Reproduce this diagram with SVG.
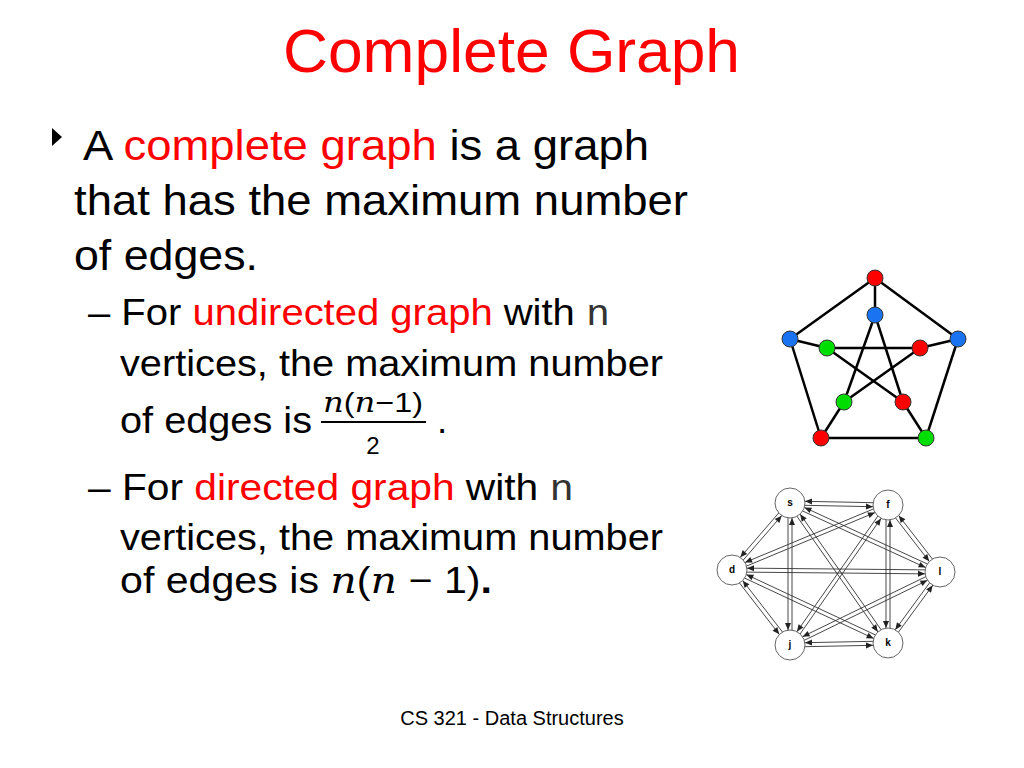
<svg xmlns="http://www.w3.org/2000/svg" width="1024" height="768" viewBox="0 0 1024 768">
<style>
.t{font-family:"Liberation Sans",Arial,sans-serif;fill:#000}
.r{fill:#f00}
.m{font-family:"DejaVu Serif","Liberation Serif",serif;font-style:italic}
.mono{font-family:"Liberation Mono","Courier New",monospace;fill:#333}
.pe line{stroke:#000;stroke-width:2.5}
.dl line{stroke:#333;stroke-width:0.9;marker-end:url(#ah)}
.dn circle{fill:#fff;stroke:#666;stroke-width:1}
.dn text{font-family:"Liberation Sans",Arial,sans-serif;font-size:10px;font-weight:bold;text-anchor:middle}
</style>
<defs>
<marker id="ah" markerUnits="userSpaceOnUse" markerWidth="30" markerHeight="10" refX="15" refY="0" viewBox="-8 -4 30 8" orient="auto"><path d="M-7,-3 L0,0 L-7,3 Z" fill="#222"/></marker>
</defs>
<rect width="1024" height="768" fill="#fff"/>
<text class="t r" x="283" y="72" font-size="62" textLength="457" lengthAdjust="spacingAndGlyphs">Complete Graph</text>
<path d="M52,128 L62,137 L52,146 Z" fill="#000"/>
<g class="t" font-size="42">
<text x="83" y="160" textLength="566" lengthAdjust="spacingAndGlyphs">A <tspan class="r">complete graph</tspan> is a graph</text>
<text x="74" y="215" textLength="614" lengthAdjust="spacingAndGlyphs">that has the maximum number</text>
<text x="74" y="270" textLength="184" lengthAdjust="spacingAndGlyphs">of edges.</text>
</g>
<g class="t" font-size="37">
<text x="88" y="325" textLength="522" lengthAdjust="spacingAndGlyphs">– For <tspan class="r">undirected graph</tspan> with <tspan class="mono">n</tspan></text>
<text x="120" y="376" textLength="543" lengthAdjust="spacingAndGlyphs">vertices, the maximum number</text>
<text x="120" y="433" textLength="192" lengthAdjust="spacingAndGlyphs">of edges is</text>
<text x="437" y="433">.</text>
<text x="88" y="500" textLength="486" lengthAdjust="spacingAndGlyphs">– For <tspan class="r">directed graph</tspan> with <tspan class="mono">n</tspan></text>
<text x="120" y="550" textLength="543" lengthAdjust="spacingAndGlyphs">vertices, the maximum number</text>
<text x="120" y="593" textLength="372" lengthAdjust="spacingAndGlyphs">of edges is <tspan class="m">n</tspan>(<tspan class="m">n</tspan> − 1)<tspan font-weight="bold">.</tspan></text>
</g>
<text class="t" x="373" y="412" font-size="27" text-anchor="middle" textLength="100" lengthAdjust="spacingAndGlyphs"><tspan class="m">n</tspan>(<tspan class="m">n</tspan>−1)</text>
<line x1="321" y1="422" x2="426" y2="422" stroke="#000" stroke-width="2"/>
<text class="t" x="373" y="454" font-size="24" text-anchor="middle">2</text>
<text class="t" x="512" y="725" font-size="20" text-anchor="middle">CS 321 - Data Structures</text>

<g id="petersen">
<g class="pe">
<line x1="875" y1="278" x2="790" y2="339"/><line x1="875" y1="278" x2="958" y2="339"/>
<line x1="790" y1="339" x2="821" y2="438"/><line x1="958" y1="339" x2="926" y2="438"/>
<line x1="821" y1="438" x2="926" y2="438"/>
<line x1="875" y1="278" x2="875" y2="315"/><line x1="790" y1="339" x2="827" y2="348"/>
<line x1="958" y1="339" x2="920" y2="348"/><line x1="821" y1="438" x2="844" y2="402"/>
<line x1="926" y1="438" x2="903" y2="402"/>
<line x1="875" y1="315" x2="844" y2="402"/><line x1="875" y1="315" x2="903" y2="402"/>
<line x1="827" y1="348" x2="920" y2="348"/><line x1="827" y1="348" x2="903" y2="402"/>
<line x1="920" y1="348" x2="844" y2="402"/>
</g>
<g stroke="#333" stroke-width="1">
<circle cx="875" cy="278" r="8" fill="#f00"/><circle cx="790" cy="339" r="8" fill="#1a73f0"/>
<circle cx="958" cy="339" r="8" fill="#1a73f0"/><circle cx="821" cy="438" r="8" fill="#f00"/>
<circle cx="926" cy="438" r="8" fill="#0d0"/><circle cx="875" cy="315" r="8" fill="#1a73f0"/>
<circle cx="827" cy="348" r="8" fill="#0d0"/><circle cx="920" cy="348" r="8" fill="#f00"/>
<circle cx="844" cy="402" r="8" fill="#0d0"/><circle cx="903" cy="402" r="8" fill="#f00"/>
</g>
</g>

<g id="connectors" class="dl">
<line x1="790" y1="505" x2="888" y2="507"/><line x1="888" y1="503" x2="790" y2="501"/>
<line x1="788.5" y1="501.7" x2="730.5" y2="568.7"/><line x1="733.5" y1="571.3" x2="791.5" y2="504.3"/>
<line x1="789.2" y1="504.8" x2="939.2" y2="573.8"/><line x1="940.8" y1="570.2" x2="790.8" y2="501.2"/>
<line x1="788" y1="503" x2="788" y2="645"/><line x1="792" y1="645" x2="792" y2="503"/>
<line x1="788.4" y1="504.1" x2="886.4" y2="644.1"/><line x1="889.6" y1="641.9" x2="791.6" y2="501.9"/>
<line x1="887.2" y1="503.2" x2="731.2" y2="568.2"/><line x1="732.8" y1="571.8" x2="888.8" y2="506.8"/>
<line x1="886.4" y1="506.2" x2="938.4" y2="573.2"/><line x1="941.6" y1="570.8" x2="889.6" y2="503.8"/>
<line x1="886.4" y1="503.9" x2="788.4" y2="643.9"/><line x1="791.6" y1="646.1" x2="889.6" y2="506.1"/>
<line x1="886" y1="505" x2="886" y2="643"/><line x1="890" y1="643" x2="890" y2="505"/>
<line x1="732" y1="572" x2="940" y2="574"/><line x1="940" y1="570" x2="732" y2="568"/>
<line x1="730.4" y1="571.2" x2="788.4" y2="646.2"/><line x1="791.6" y1="643.8" x2="733.6" y2="568.8"/>
<line x1="731.2" y1="571.8" x2="887.2" y2="644.8"/><line x1="888.8" y1="641.2" x2="732.8" y2="568.2"/>
<line x1="939.1" y1="570.2" x2="789.1" y2="643.2"/><line x1="790.9" y1="646.8" x2="940.9" y2="573.8"/>
<line x1="938.4" y1="570.8" x2="886.4" y2="641.8"/><line x1="889.6" y1="644.2" x2="941.6" y2="573.2"/>
<line x1="790" y1="647" x2="888" y2="645"/><line x1="888" y1="641" x2="790" y2="643"/>
</g>
<g class="dn">
<g id="node-s"><circle cx="790" cy="503" r="15"/><text x="790" y="506">s</text></g>
<g id="node-f"><circle cx="888" cy="505" r="15"/><text x="888" y="508">f</text></g>
<g id="node-d"><circle cx="732" cy="570" r="15"/><text x="732" y="573">d</text></g>
<g id="node-l"><circle cx="940" cy="572" r="15"/><text x="940" y="575">l</text></g>
<g id="node-j"><circle cx="790" cy="645" r="15"/><text x="790" y="648">j</text></g>
<g id="node-k"><circle cx="888" cy="643" r="15"/><text x="888" y="646">k</text></g>
</g>
</svg>
